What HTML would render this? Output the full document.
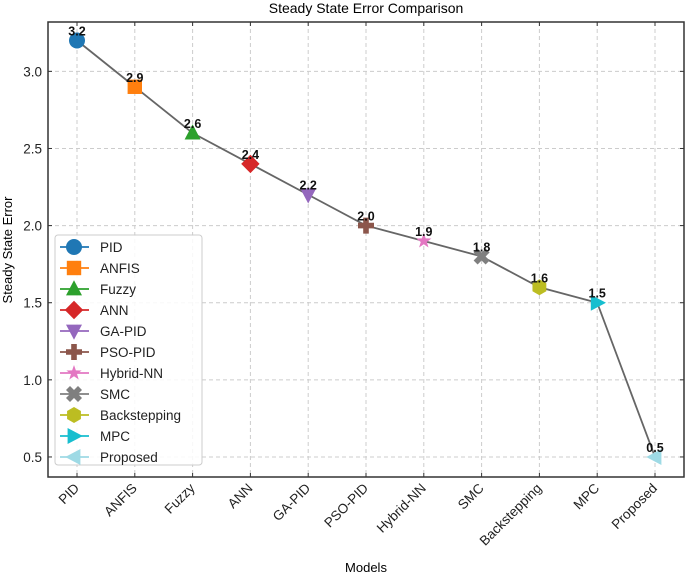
<!DOCTYPE html>
<html><head><meta charset="utf-8"><style>
body{margin:0;background:#fff}
svg{display:block;font-family:"Liberation Sans","DejaVu Sans",sans-serif}
</style></head><body>
<svg id="chart" width="685" height="577" xmlns="http://www.w3.org/2000/svg">
<text x="366" y="13" font-size="14" text-anchor="middle">Steady State Error Comparison</text>
<g id="grid"></g>
<g id="axes"></g>
<g id="series"></g>
<g id="legend"></g>
<text x="366" y="572" font-size="13" text-anchor="middle">Models</text>
<text transform="translate(12,250) rotate(-90)" font-size="13" text-anchor="middle">Steady State Error</text>
</svg>
<script>
const categories=["PID","ANFIS","Fuzzy","ANN","GA-PID","PSO-PID","Hybrid-NN","SMC","Backstepping","MPC","Proposed"];
const values=[3.2,2.9,2.6,2.4,2.2,2.0,1.9,1.8,1.6,1.5,0.5];
const colors=["#1f77b4","#ff7f0e","#2ca02c","#d62728","#9467bd","#8c564b","#e377c2","#7f7f7f","#bcbd22","#17becf","#9edae5"];
const markers=["circle","square","triUp","diamond","triDown","plus","star","x","hex","triRight","triLeft"];
const yTicks=[0.5,1.0,1.5,2.0,2.5,3.0];
const NS="http://www.w3.org/2000/svg";
const L=48,R=684,T=22,B=477,yMin=0.37,yMax=3.32;
function xs(i){return 77+i*(655-77)/(categories.length-1);}
function ys(v){return B-(v-yMin)/(yMax-yMin)*(B-T);}
function mk(tag,attrs,parent){const e=document.createElementNS(NS,tag);for(const k in attrs)e.setAttribute(k,attrs[k]);parent.appendChild(e);return e;}
function marker(type,cx,cy,s,color,parent){
  let e;
  const pts=a=>a.map(p=>(cx+p[0]*s)+","+(cy+p[1]*s)).join(" ");
  switch(type){
    case"circle":e=mk("circle",{cx,cy,r:s},parent);break;
    case"square":e=mk("rect",{x:cx-s*0.9,y:cy-s*0.9,width:s*1.8,height:s*1.8},parent);break;
    case"triUp":e=mk("polygon",{points:pts([[0,-1.1],[1,0.8],[-1,0.8]])},parent);break;
    case"triDown":e=mk("polygon",{points:pts([[0,1.1],[1,-0.8],[-1,-0.8]])},parent);break;
    case"triRight":e=mk("polygon",{points:pts([[1.1,0],[-0.8,1],[-0.8,-1]])},parent);break;
    case"triLeft":e=mk("polygon",{points:pts([[-1.1,0],[0.8,1],[0.8,-1]])},parent);break;
    case"diamond":e=mk("polygon",{points:pts([[0,-1.15],[1.15,0],[0,1.15],[-1.15,0]])},parent);break;
    case"plus":e=mk("polygon",{points:pts([[-0.35,-1],[0.35,-1],[0.35,-0.35],[1,-0.35],[1,0.35],[0.35,0.35],[0.35,1],[-0.35,1],[-0.35,0.35],[-1,0.35],[-1,-0.35],[-0.35,-0.35]])},parent);break;
    case"x":e=mk("polygon",{points:pts([[-0.5,-1],[0,-0.5],[0.5,-1],[1,-0.5],[0.5,0],[1,0.5],[0.5,1],[0,0.5],[-0.5,1],[-1,0.5],[-0.5,0],[-1,-0.5]])},parent);break;
    case"star":{const a=[];for(let k=0;k<10;k++){const r=k%2?0.4:1,t=-Math.PI/2+k*Math.PI/5;a.push([r*Math.cos(t),r*Math.sin(t)]);}e=mk("polygon",{points:pts(a)},parent);break;}
    case"hex":{const a=[];for(let k=0;k<6;k++){const t=Math.PI/6+k*Math.PI/3;a.push([Math.cos(t),Math.sin(t)]);}e=mk("polygon",{points:pts(a)},parent);break;}
  }
  e.setAttribute("fill",color);
  return e;
}
const grid=document.getElementById("grid"),axes=document.getElementById("axes"),series=document.getElementById("series"),legend=document.getElementById("legend");
yTicks.forEach(v=>{
  const y=ys(v);
  const g=mk("line",{x1:L,x2:R,y1:y,y2:y,stroke:"#ccc","stroke-dasharray":"4,3","stroke-width":1},grid);
  
  
  mk("line",{x1:L,x2:L+4,y1:y,y2:y,stroke:"#333"},axes);
  mk("line",{x1:R-4,x2:R,y1:y,y2:y,stroke:"#333"},axes);
  const t=mk("text",{x:L-6,y:y+5,"font-size":13.5,"text-anchor":"end",fill:"#222"},axes);
  t.textContent=v.toFixed(1);
  
  
});
categories.forEach((c,i)=>{
  const x=xs(i);
  const g=mk("line",{x1:x,x2:x,y1:T,y2:B,stroke:"#ccc","stroke-dasharray":"4,3","stroke-width":1},grid);
  
  
  mk("line",{x1:x,x2:x,y1:B-4,y2:B,stroke:"#333"},axes);
  mk("line",{x1:x,x2:x,y1:T,y2:T+4,stroke:"#333"},axes);
  const t=mk("text",{x:x+3,y:B+12,"font-size":13.5,"text-anchor":"end",fill:"#222",transform:`rotate(-45 ${x+3} ${B+12})`},axes);
  t.textContent=c;
  
  
});
const frame=mk("rect",{x:L,y:T,width:R-L,height:B-T,fill:"none",stroke:"#333","stroke-width":1.5},axes);


const line=mk("polyline",{points:values.map((v,i)=>xs(i)+","+ys(v)).join(" "),fill:"none",stroke:"#666","stroke-width":1.8},series);


values.forEach((v,i)=>{
  const m=marker(markers[i],xs(i),ys(v),8,colors[i],series);
  
  
  const t=mk("text",{x:xs(i),y:ys(v)-5,"font-size":12.5,"font-weight":"bold","text-anchor":"middle",fill:"#111"},series);
  t.textContent=v.toFixed(1);
  
  
});
const lb=mk("rect",{x:55,y:235,width:147,height:230,fill:"#fff","fill-opacity":0.85,stroke:"#ccc",rx:3},legend);


categories.forEach((c,i)=>{
  const y=247+i*21;
  mk("line",{x1:60,x2:89,y1:y,y2:y,stroke:colors[i],"stroke-width":1.8},legend);
  marker(markers[i],74,y,8,colors[i],legend);
  const t=mk("text",{x:100,y:y+5,"font-size":13.5,fill:"#222"},legend);
  t.textContent=c;
  
  
});
</script>
</body></html>
